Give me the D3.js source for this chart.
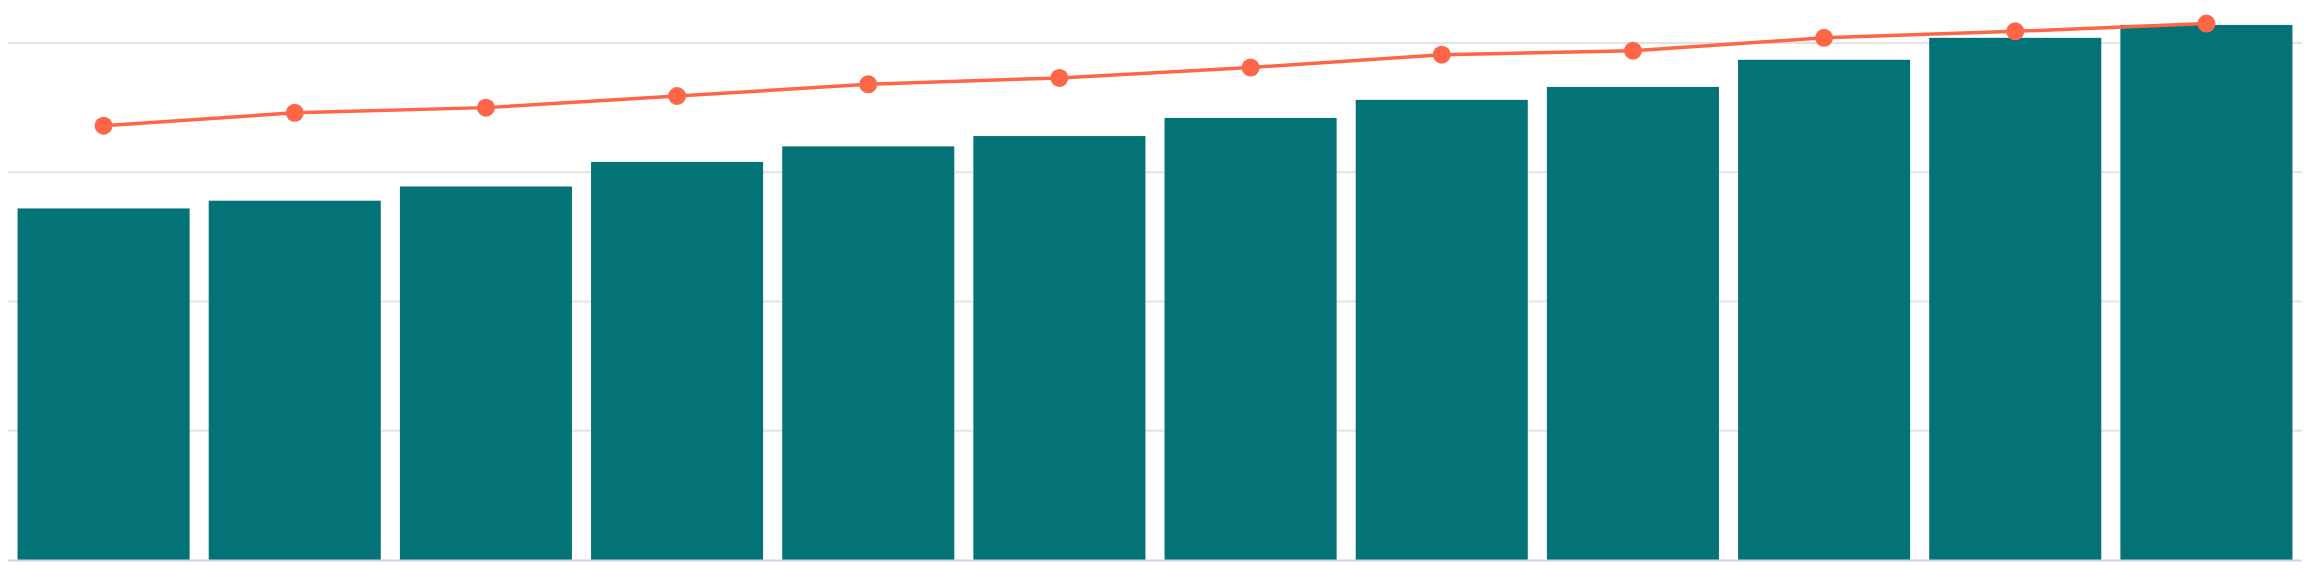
<!DOCTYPE html>
<html>
<head>
<meta charset="utf-8">
<script src="https://cdn.jsdelivr.net/npm/d3@7"></script>
<style>
  body { margin: 0; background: #fff; }
  svg { display: block; font-family: "Open Sans", sans-serif; }
</style>
</head>
<body>
<div id="chart"></div>
<script>
// values (same value scale for bars and line)
var categories = ["1", "2", "3", "4", "5", "6", "7", "8", "9", "10", "11", "12"];
var barValues = [272, 278, 289, 308, 320, 328, 342, 356, 366, 387, 404, 414];
var lineValues = [336, 346, 350, 359, 368, 373, 381, 391, 394, 404, 409, 415];
var gridTicks = [0, 100, 200, 300, 400];

var W = 2310, H = 570;
var margin = {top: 10, right: 8, bottom: 10, left: 8},
    width = W - margin.left - margin.right,
    height = H - margin.top - margin.bottom;

var svg = d3.select("#chart")
  .append("svg")
  .attr("width", W)
  .attr("height", H)
  .append("g")
  .attr("transform", "translate(" + margin.left + "," + margin.top + ")");

// x: one band per category, bars leave ~18px gap
var x = d3.scaleBand()
  .domain(categories)
  .range([0, width])
  .paddingInner(0.1)
  .paddingOuter(0.05);

// y: top gridline (400) sits at y = 43
var y = d3.scaleLinear()
  .domain([0, 400])
  .range([height, 33]);

// grid lines
svg.append("g")
  .selectAll("line")
  .data(gridTicks.slice(1))
  .join("line")
  .attr("x1", 0)
  .attr("x2", width)
  .attr("y1", d => y(d))
  .attr("y2", d => y(d))
  .attr("stroke", "#e3e3e3")
  .attr("stroke-width", 2);

// bars
svg.append("g")
  .selectAll("rect")
  .data(barValues)
  .join("rect")
  .attr("x", (d, i) => x(categories[i]))
  .attr("width", x.bandwidth())
  .attr("y", d => y(d))
  .attr("height", d => y(0) - y(d))
  .attr("fill", "#037377");

// x axis line
svg.append("line")
  .attr("x1", 0)
  .attr("x2", width)
  .attr("y1", y(0) + 0.5)
  .attr("y2", y(0) + 0.5)
  .attr("stroke", "#ccd6eb")
  .attr("stroke-width", 2);

// line series
var line = d3.line()
  .x((d, i) => x(categories[i]) + x.bandwidth() / 2)
  .y(d => y(d));

svg.append("path")
  .datum(lineValues)
  .attr("fill", "none")
  .attr("stroke", "#ff6647")
  .attr("stroke-width", 3.5)
  .attr("d", line);

svg.append("g")
  .selectAll("circle")
  .data(lineValues)
  .join("circle")
  .attr("cx", (d, i) => x(categories[i]) + x.bandwidth() / 2)
  .attr("cy", d => y(d))
  .attr("r", 9)
  .attr("fill", "#ff6647");
</script>
</body>
</html>
